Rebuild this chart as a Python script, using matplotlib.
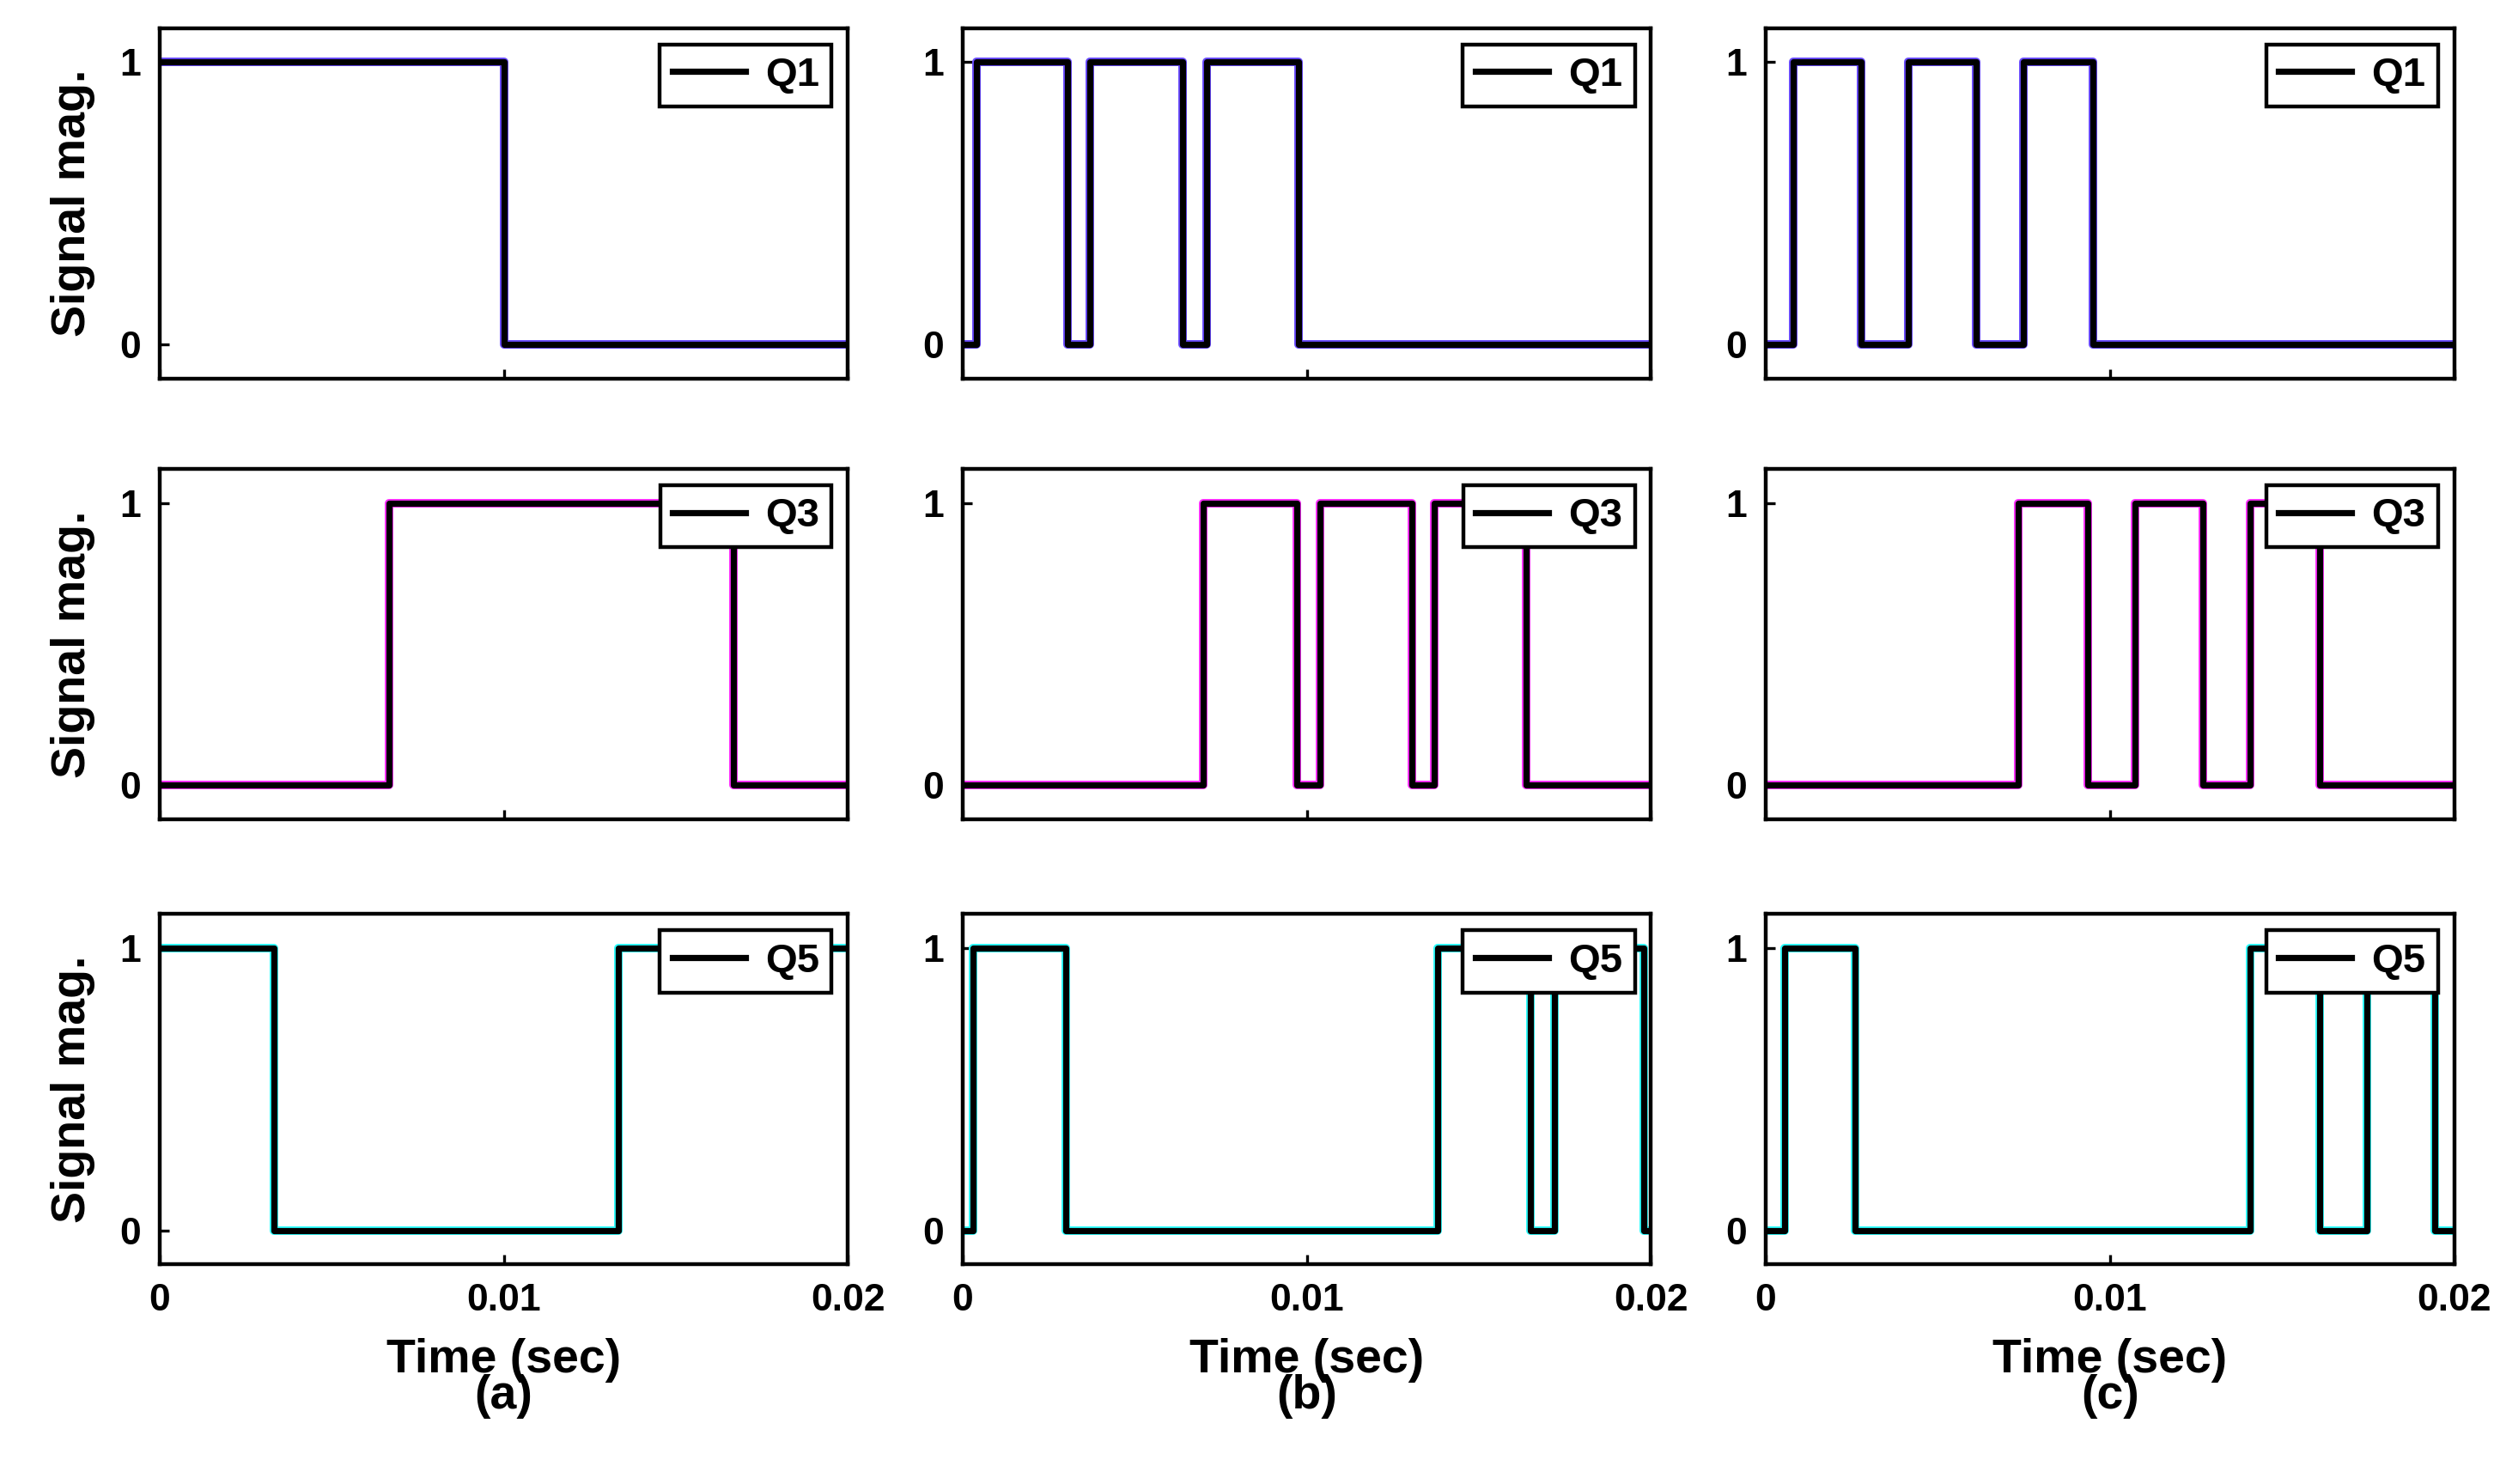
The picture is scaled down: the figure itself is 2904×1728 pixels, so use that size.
import matplotlib
matplotlib.use("Agg")
import matplotlib.pyplot as plt

# switching instants (sec) and levels (steps-post)
a_q1_t = [0, 0.010, 0.02]; a_q1_v = [1, 0, 0]
a_q3_t = [0, 0.00667, 0.01667, 0.02]; a_q3_v = [0, 1, 0, 0]
a_q5_t = [0, 0.00333, 0.01333, 0.02]; a_q5_v = [1, 0, 1, 1]

b_q1_t = [0, 0.0004, 0.00305, 0.0037, 0.00638, 0.00709, 0.00977, 0.02]; b_q1_v = [0, 1, 0, 1, 0, 1, 0, 0]
b_q3_t = [0, 0.0070, 0.00972, 0.01038, 0.01305, 0.01371, 0.01638, 0.02]; b_q3_v = [0, 1, 0, 1, 0, 1, 0, 0]
b_q5_t = [0, 0.0003, 0.0030, 0.0138, 0.0165, 0.0172, 0.0198, 0.02]; b_q5_v = [0, 1, 0, 1, 0, 1, 0, 0]

c_q1_t = [0, 0.0008, 0.00278, 0.00414, 0.00612, 0.00748, 0.0095, 0.02]; c_q1_v = [0, 1, 0, 1, 0, 1, 0, 0]
c_q3_t = [0, 0.00734, 0.00936, 0.01073, 0.0127, 0.01407, 0.0161, 0.02]; c_q3_v = [0, 1, 0, 1, 0, 1, 0, 0]
c_q5_t = [0, 0.00056, 0.00259, 0.01407, 0.0161, 0.01746, 0.01944, 0.02]; c_q5_v = [0, 1, 0, 1, 0, 1, 0, 0]

names = ["Q1", "Q3", "Q5"]
edge_colors = ["#6a4cff", "#ff30ff", "#30ffff"]
panel_labels = ["(a)", "(b)", "(c)"]
data = [
    [(a_q1_t, a_q1_v), (a_q3_t, a_q3_v), (a_q5_t, a_q5_v)],
    [(b_q1_t, b_q1_v), (b_q3_t, b_q3_v), (b_q5_t, b_q5_v)],
    [(c_q1_t, c_q1_v), (c_q3_t, c_q3_v), (c_q5_t, c_q5_v)],
]

plt.rcParams['font.family'] = ['Liberation Sans', 'DejaVu Sans']
plt.rcParams['font.weight'] = 'bold'
fig = plt.figure(figsize=(14.52, 8.64), dpi=200)
lefts = [0.064, 0.386, 0.708]
bottoms = [0.745, 0.448, 0.148]
w, h = 0.276, 0.236

for c in range(3):
    for r in range(3):
        ax = fig.add_axes([lefts[c], bottoms[r], w, h])
        t, v = data[c][r]
        ax.plot(t, v, drawstyle='steps-post', color=edge_colors[r], lw=3.6)
        ax.plot(t, v, drawstyle='steps-post', color='black', lw=2.6, label=names[r])
        ax.set_xlim(0, 0.02)
        ax.set_ylim(-0.12, 1.12)
        ax.set_yticks([0, 1])
        ax.set_yticklabels(["0", "1"], fontsize=16, fontweight='bold')
        ax.set_xticks([0, 0.01, 0.02])
        if r == 2:
            ax.set_xticklabels(["0", "0.01", "0.02"], fontsize=16, fontweight='bold')
            ax.set_xlabel("Time (sec)", fontsize=20, fontweight='bold', labelpad=8)
        else:
            ax.set_xticklabels([])
        ax.tick_params(direction='in', length=4, width=1.2, pad=8)
        for s in ax.spines.values():
            s.set_linewidth(1.6)
        if c == 0:
            ax.set_ylabel("Signal mag.", fontsize=20, fontweight='bold', labelpad=10)
        leg = ax.legend(loc='upper right', handlelength=1.8,
                        fancybox=False, framealpha=1, borderaxespad=0.4,
                        borderpad=0.3, handletextpad=0.5,
                        prop={'weight': 'bold', 'size': 17})
        leg.get_frame().set_edgecolor('black')
        leg.get_frame().set_linewidth(1.6)
    fig.text(lefts[c] + w / 2, 0.059, panel_labels[c], ha='center', va='center',
             fontsize=20, fontweight='bold')

fig.savefig("out.png", dpi=200)
